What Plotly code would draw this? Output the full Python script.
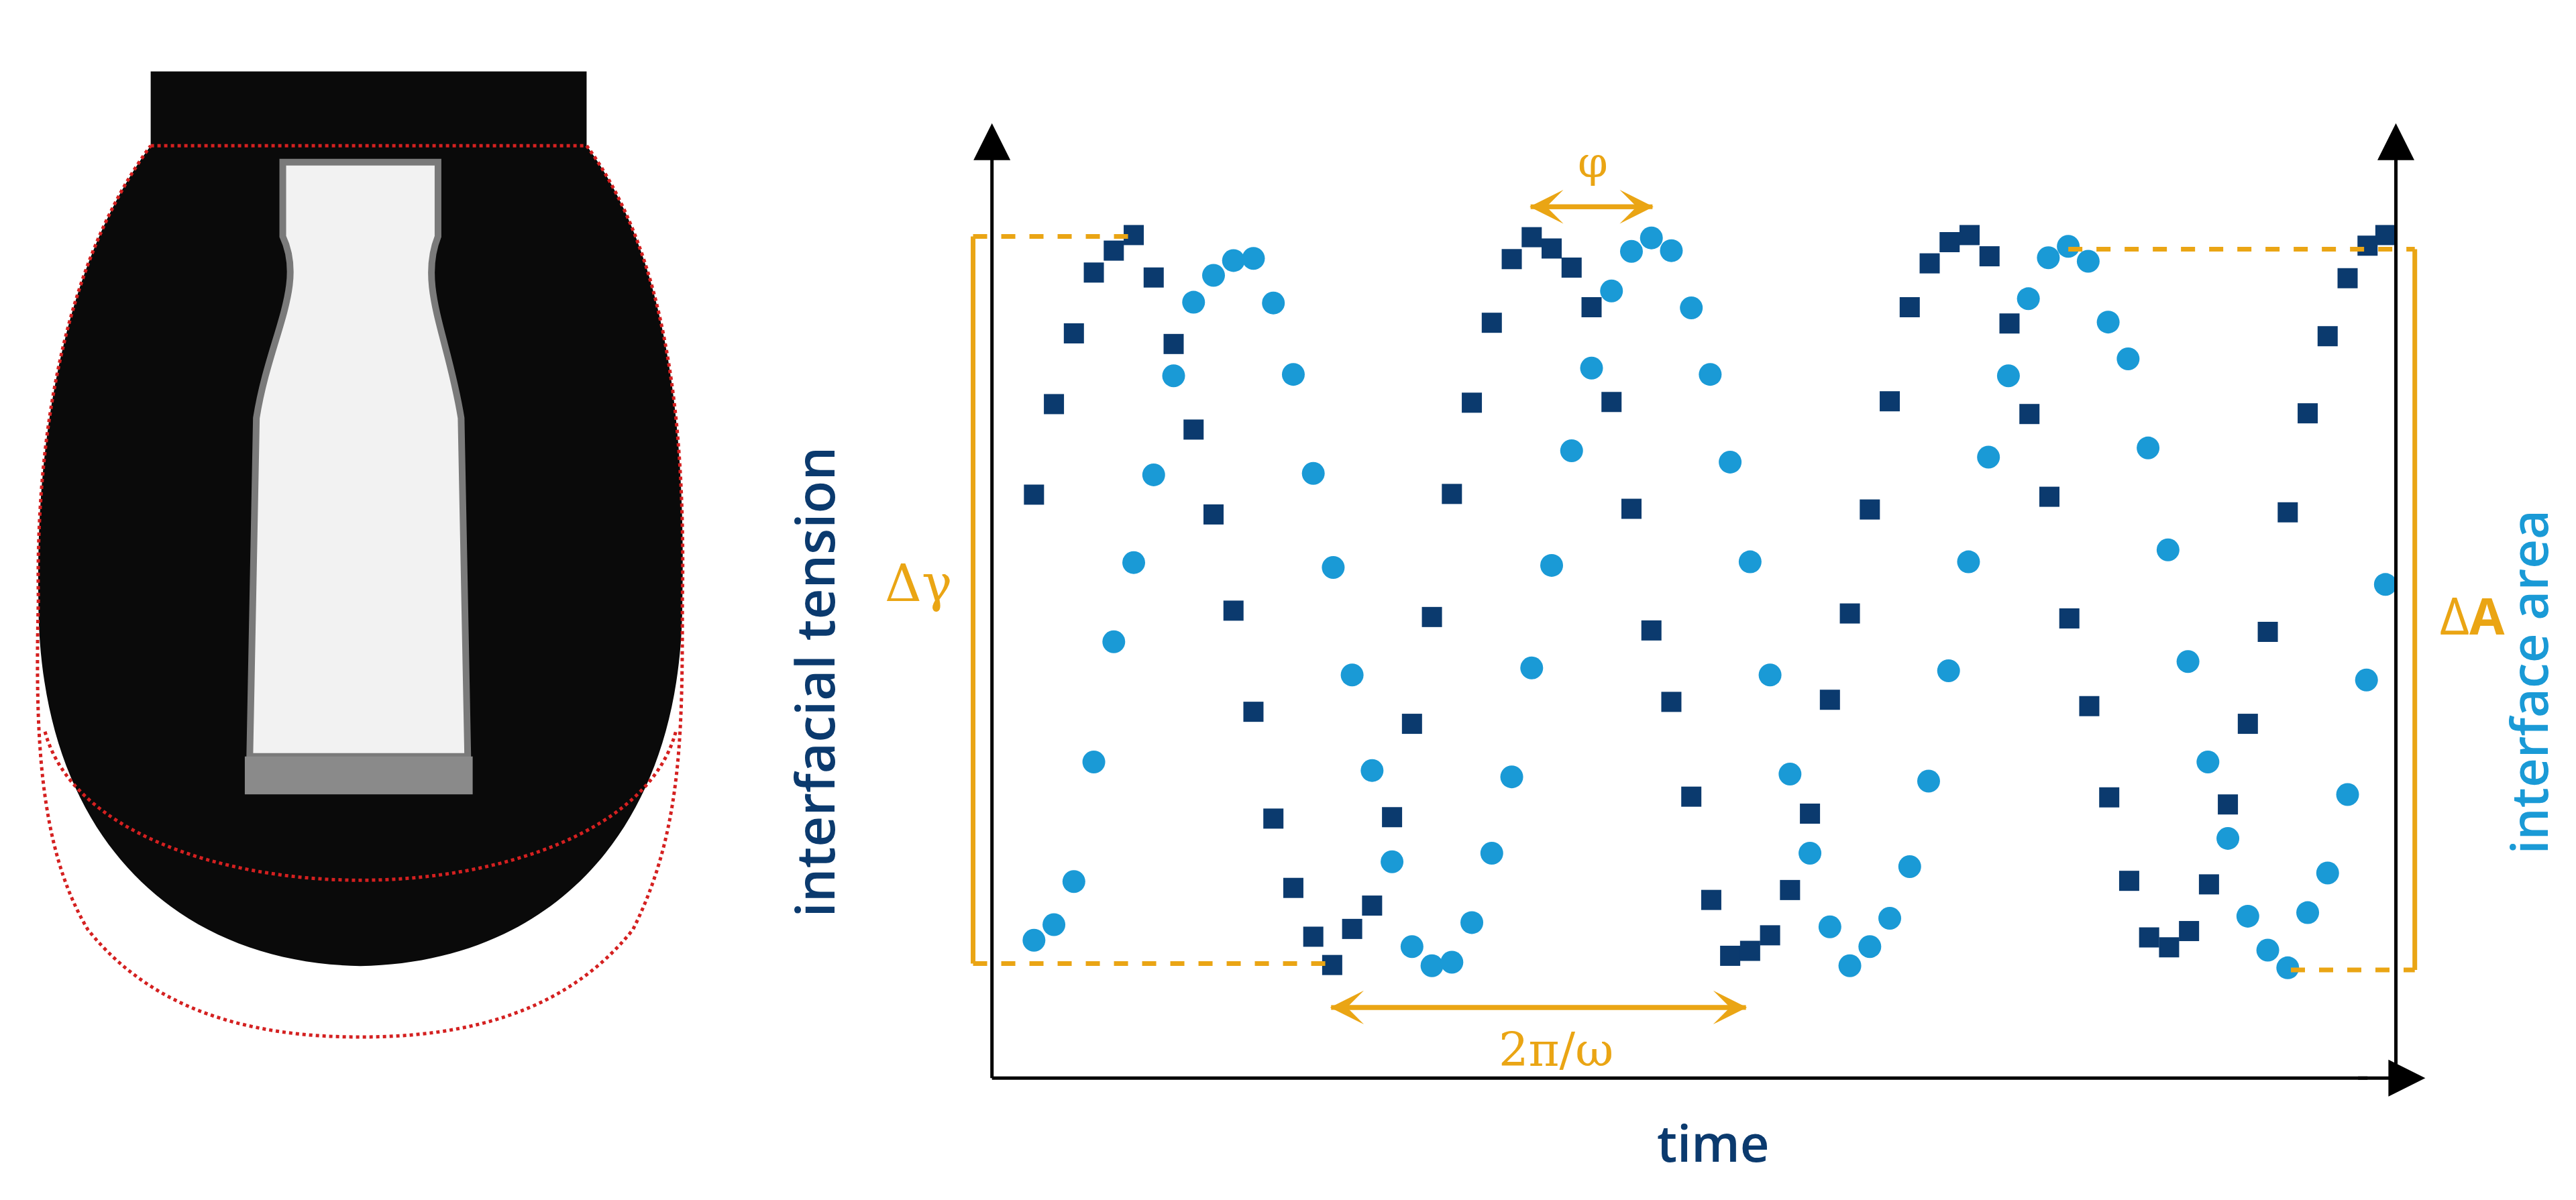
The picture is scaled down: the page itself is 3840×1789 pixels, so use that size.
import plotly.graph_objects as go

# values (time, signal), axis origin at (0, 0)
sq_x = [83,102,121,140,159,178,197,216,235,254,273,292,311,330,349,367,386,405,424,443,462,481,500,519,538,557,576,595,614,633,652,671,690,709,728,746,765,784,803,822,841,860,879,898,917,936,955,974,993,1012,1031,1050,1069,1088,1107,1126,1145,1164,1183,1202,1220,1239,1258,1277,1296,1315,1334,1353,1370]
sq_y = [565,437,337,251,220,198,258,352,473,593,729,872,1023,1121,1190,1230,1179,1146,1021,889,738,564,435,322,232,201,217,244,300,434,585,757,858,992,1138,1217,1210,1188,1124,1016,855,733,586,433,300,238,208,198,228,323,451,568,740,864,993,1111,1191,1205,1182,1116,1003,889,759,590,450,341,259,213,198]
ci_x = [83,102,121,140,159,178,197,216,235,254,273,292,311,330,349,368,386,405,424,443,462,481,500,519,538,557,576,595,614,633,652,671,690,709,727,746,765,784,803,822,841,860,879,898,917,935,954,973,992,1011,1030,1049,1068,1087,1106,1125,1144,1163,1182,1201,1220,1239,1258,1277,1296,1315,1334,1352,1370]
ci_y = [1195,1173,1112,943,773,661,537,397,293,255,234,231,294,395,535,668,820,955,1084,1204,1231,1226,1170,1072,964,810,665,503,386,277,221,202,220,301,395,519,660,820,960,1072,1176,1231,1204,1164,1091,970,814,660,512,397,288,230,214,235,321,373,499,643,801,943,1051,1161,1209,1234,1156,1100,989,827,692]

X0, Y0 = 43, 1390
NAVY = "#0b3a6e"
BLUE = "#1a9ad6"
ORANGE = "#eaa514"

tx = lambda v: v - X0
ty = lambda v: Y0 - v

# plot scale: paper fraction per data unit
KX = 0.545 / 1337
KY = 0.791 / 1342
XR = [-250, 1510]
YR = [-150, 1400]

fig = go.Figure()
fig.add_trace(go.Scatter(x=[tx(v) for v in sq_x], y=[ty(v) for v in sq_y], mode="markers",
                         marker=dict(symbol="square", size=30, color=NAVY), xaxis="x", yaxis="y"))
fig.add_trace(go.Scatter(x=[tx(v) for v in ci_x], y=[ty(v) for v in ci_y], mode="markers",
                         marker=dict(symbol="circle", size=34, color=BLUE), xaxis="x", yaxis="y"))
fig.add_trace(go.Scatter(x=[0], y=[0], mode="markers", marker=dict(opacity=0), xaxis="x2", yaxis="y2"))

shapes = []
def L(x0, y0, x1, y1, color, dash="solid", w=7, ref=("x", "y")):
    shapes.append(dict(type="line", xref=ref[0], yref=ref[1], x0=x0, y0=y0, x1=x1, y1=y1,
                       line=dict(color=color, width=w, dash=dash)))

# axes
L(0, 0, 0, 1310, "black", w=5)
L(1337, 0, 1337, 1310, "black", w=5)
L(0, 0, 1310, 0, "black", w=5)
# orange brackets
L(tx(25), ty(200), tx(25), ty(1228), ORANGE)
L(tx(25), ty(200), tx(178), ty(200), ORANGE, "dash")
L(tx(25), ty(1228), tx(365), ty(1228), ORANGE, "dash")
L(tx(1398), ty(218), tx(1398), ty(1237), ORANGE)
L(tx(1068), ty(218), tx(1398), ty(218), ORANGE, "dash")
L(tx(1280), ty(1237), tx(1398), ty(1237), ORANGE, "dash")

# drop (axes x2/y2 in drop pixel units, y downwards)
d = ("x2", "y2")
shapes.append(dict(type="path", xref="x2", yref="y2", fillcolor="#0a0a0a", line=dict(width=0),
                   path="M 88 40 L 352 40 L 352 85 C 400 150, 412 250, 410 360 C 410 500, 330 580, 215 582 "
                        "C 100 580, 20 500, 20 360 C 18 250, 40 150, 88 85 Z"))
shapes.append(dict(type="path", xref="x2", yref="y2", fillcolor="#f2f2f2", line=dict(width=10, color="#7a7a7a"),
                   path="M 168 95 L 262 95 L 262 140 C 250 170, 268 200, 276 250 L 280 455 L 148 455 "
                        "L 152 250 C 160 200, 182 170, 168 140 Z"))
shapes.append(dict(type="rect", xref="x2", yref="y2", x0=145, x1=283, y0=455, y1=478,
                   fillcolor="#8a8a8a", line=dict(width=0)))
RED = "#d42020"
L(88, 85, 352, 85, RED, "dot", 5, d)
shapes.append(dict(type="path", xref="x2", yref="y2", line=dict(color=RED, width=5, dash="dot"),
                   path="M 352 85 C 400 150, 412 250, 410 360 C 410 440, 410 500, 380 560 C 340 610, 280 625, 215 625 "
                        "C 150 625, 90 610, 50 560 C 20 510, 18 440, 20 360 C 18 250, 40 150, 88 85"))
shapes.append(dict(type="path", xref="x2", yref="y2", line=dict(color=RED, width=5, dash="dot"),
                   path="M 24 440 C 40 500, 130 530, 215 530 C 300 530, 390 500, 406 440"))

ann = []
def arrow(x, y, ax, ay, color, heads=2, size=1.2, w=7):
    ann.append(dict(x=x, y=y, ax=ax, ay=ay, xref="x", yref="y", axref="x", ayref="y", text="",
                    showarrow=True, arrowhead=heads, arrowsize=size, arrowwidth=w, arrowcolor=color))
# axis arrowheads
arrow(0, 1350, 0, 1300, "black", 2, 2.2, 5)
arrow(1337, 1350, 1337, 1300, "black", 2, 2.2, 5)
arrow(1365, 0, 1300, 0, "black", 2, 2.2, 5)
# φ and period arrows
arrow(tx(673), ty(158), tx(555), ty(158), ORANGE, 3)
arrow(tx(555), ty(158), tx(673), ty(158), ORANGE, 3)
arrow(tx(762), ty(1290), tx(365), ty(1290), ORANGE, 3)
arrow(tx(365), ty(1290), tx(762), ty(1290), ORANGE, 3)

def text(x, y, s, color, size, angle=0, family="Open Sans, sans-serif", weight="normal"):
    ann.append(dict(x=x, y=y, xref="x", yref="y", text=s, showarrow=False, textangle=angle,
                    font=dict(color=color, size=size, family=family, weight=weight)))
text(tx(615), ty(95), "φ", ORANGE, 64, family="DejaVu Serif")
text(tx(580), ty(1350), "2π/ω", ORANGE, 70, family="DejaVu Serif")
text(-70, ty(690), "Δγ", ORANGE, 76, family="DejaVu Serif")
text(1410, ty(735), "Δ<b>A</b>", ORANGE, 76)
text(tx(730), -90, "time", NAVY, 76, weight=600)
text(-170, 560, "interfacial tension", NAVY, 80, angle=-90, weight=600)
text(1463, 560, "interface area", BLUE, 76, angle=-90, weight=600)

fig.update_layout(
    width=3840, height=1789, showlegend=False, plot_bgcolor="white", paper_bgcolor="white",
    margin=dict(l=0, r=0, t=0, b=0), shapes=shapes, annotations=ann,
    xaxis=dict(domain=[0.383 + XR[0] * KX, 0.383 + XR[1] * KX], range=XR, visible=False),
    yaxis=dict(domain=[0.106 + YR[0] * KY, 0.106 + YR[1] * KY], range=YR, visible=False),
    xaxis2=dict(domain=[0, 430 / 1560], range=[0, 430], visible=False, anchor="y2"),
    yaxis2=dict(domain=[0, 1], range=[727, 0], visible=False, anchor="x2"),
)
fig.write_html("out.html")
